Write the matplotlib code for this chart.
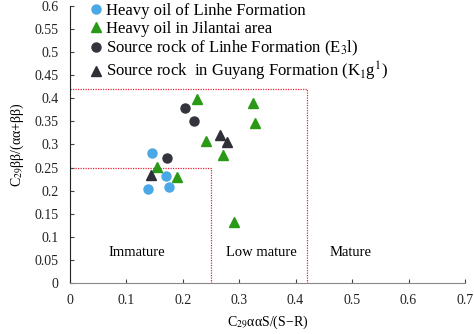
import matplotlib
matplotlib.use("Agg")
import matplotlib.pyplot as plt

plt.rcParams['font.family'] = ['Liberation Serif', 'DejaVu Serif']
plt.rcParams['mathtext.fontset'] = 'stix'

# heavy oil, Linhe Formation
linhe_oil_x = [0.145, 0.170, 0.139, 0.175]
linhe_oil_y = [0.282, 0.231, 0.204, 0.208]
# heavy oil, Jilantai area
jilantai_x = [0.226, 0.324, 0.328, 0.241, 0.272, 0.154, 0.190, 0.291]
jilantai_y = [0.398, 0.390, 0.347, 0.307, 0.277, 0.252, 0.230, 0.132]
# source rock, Linhe Formation
linhe_rock_x = [0.204, 0.221, 0.173]
linhe_rock_y = [0.378, 0.351, 0.270]
# source rock, Guyang Formation
guyang_x = [0.267, 0.279, 0.144]
guyang_y = [0.320, 0.305, 0.234]

# maturity boundaries
low_x, low_y = 0.25, 0.25
mat_x, mat_y = 0.42, 0.42

fig = plt.figure(figsize=(4.74, 3.34), dpi=100)
ax = fig.add_axes([0.147, 0.153, 0.834, 0.829])

ax.plot([0, low_x, low_x], [low_y, low_y, 0], color='#e8243a', lw=0.9, ls=(0, (1, 1)))
ax.plot([0, mat_x, mat_x], [mat_y, mat_y, 0], color='#e8243a', lw=0.9, ls=(0, (1, 1)))

ax.plot(linhe_oil_x, linhe_oil_y, 'o', color='#4aa8e6', ms=6.5, ls='none',
        label='Heavy oil of Linhe Formation')
ax.plot(jilantai_x, jilantai_y, '^', color='#2a9a16', ms=7.5, ls='none',
        label='Heavy oil in Jilantai area')
ax.plot(linhe_rock_x, linhe_rock_y, 'o', color='#33343c', ms=6.5, ls='none',
        label='Source rock of Linhe Formation (E$_3$l)')
ax.plot(guyang_x, guyang_y, '^', color='#2f2f38', ms=7.5, ls='none',
        label='Source rock  in Guyang Formation (K$_1$g$^1$)')

ax.text(0.118, 0.065, 'Immature', ha='center', va='center', fontsize=10.5)
ax.text(0.339, 0.065, 'Low mature', ha='center', va='center', fontsize=10.5)
ax.text(0.498, 0.065, 'Mature', ha='center', va='center', fontsize=10.5)

ax.set_xlim(0, 0.7)
ax.set_ylim(0, 0.6)
ax.set_xticks([0, 0.1, 0.2, 0.3, 0.4, 0.5, 0.6, 0.7])
ax.set_xticklabels(['0', '0.1', '0.2', '0.3', '0.4', '0.5', '0.6', '0.7'])
yt = [i * 0.05 for i in range(13)]
ax.set_yticks(yt)
ax.set_yticklabels(['0', '0.05', '0.1', '0.15', '0.2', '0.25', '0.3', '0.35',
                    '0.4', '0.45', '0.5', '0.55', '0.6'])
ax.tick_params(direction='in', labelsize=10, length=3, pad=8, colors='#444444',
               labelcolor='#222222')
ax.spines['top'].set_visible(False)
ax.spines['right'].set_visible(False)
ax.spines['left'].set_color('#222222')
ax.spines['bottom'].set_color('#888888')

ax.set_xlabel('C$_{29}$ααS/(S−R)', fontsize=10, labelpad=5)
ax.set_ylabel('C$_{29}$ββ/(αα+ββ)', fontsize=10, labelpad=6)

ax.legend(loc='upper left', bbox_to_anchor=(0.025, 1.035), frameon=False,
          fontsize=12, handletextpad=0.0, handlelength=1.2,
          labelspacing=0.12, borderaxespad=0)

fig.savefig('out.png', dpi=100)
